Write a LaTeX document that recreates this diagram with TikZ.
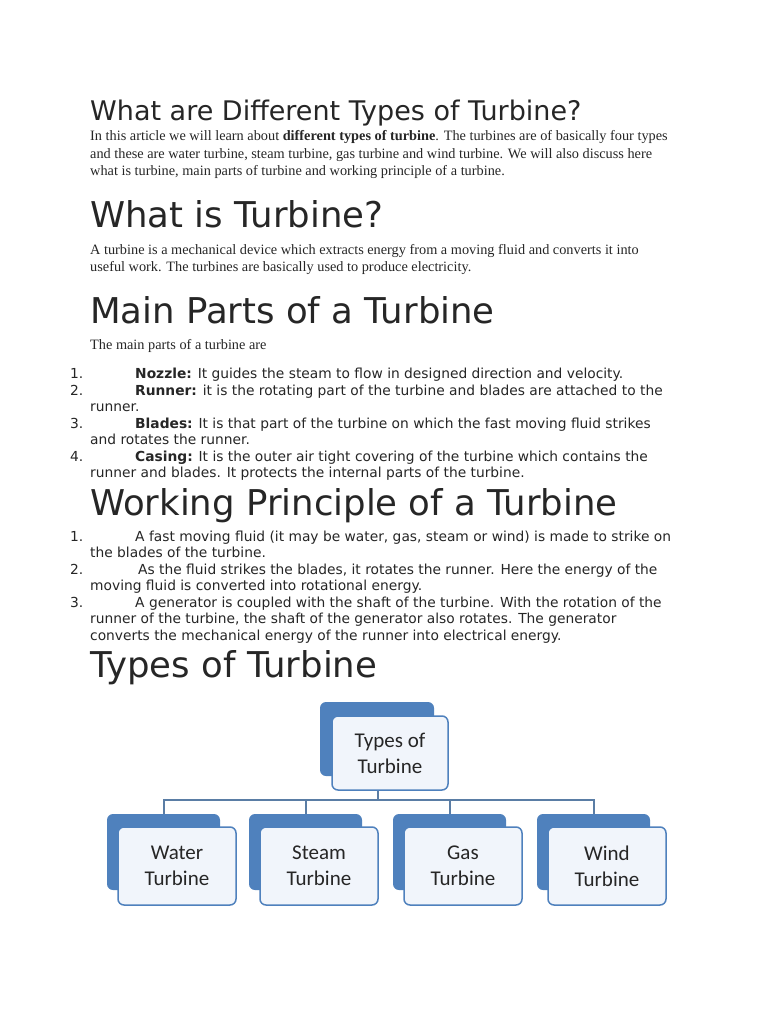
\documentclass[tikz,border=0pt]{standalone}
\usepackage{fontspec}
\setmainfont{Liberation Serif}
\newfontfamily\dvfont{DejaVu Sans}
\newfontfamily\calfont{Carlito}
\begin{document}
\begin{tikzpicture}[x=1pt,y=-1pt,
 htwo/.style={anchor=base west,inner sep=0,font=\dvfont\fontsize{27}{30}\selectfont,text=black!85},
 hone/.style={anchor=base west,inner sep=0,font=\dvfont\fontsize{35.5}{40}\selectfont,text=black!85},
 body/.style={anchor=base west,inner sep=0,font=\fontsize{14.3}{16}\selectfont,text=black!85},
 li/.style={anchor=base west,inner sep=0,font=\dvfont\fontsize{13.8}{16}\selectfont,text=black!85},
 backbox/.style={draw=none,rounded corners=6pt,fill={rgb,255:red,79;green,129;blue,189}},
 frontbox/.style={fill={rgb,255:red,241;green,245;blue,251},draw={rgb,255:red,79;green,129;blue,189},line width=1.5pt,rounded corners=6pt,font=\calfont\fontsize{21}{26}\selectfont,align=center,inner sep=0,text=black!85},
 conn/.style={draw={rgb,255:red,90;green,125;blue,165},line width=1.5pt}]
\useasboundingbox (0,0) rectangle (768,1024);
\fill[white] (0,0) rectangle (768,1024);
\node[htwo] (h0) at (90,121) {What are Different Types of Turbine?};
\node[body] (p1) at (90,141) {In this article we will learn about \textbf{different types of turbine}. The turbines are of basically four types};
\node[body] (p2) at (90,159) {and these are water turbine, steam turbine, gas turbine and wind turbine. We will also discuss here};
\node[body] (p3) at (90,176) {what is turbine, main parts of turbine and working principle of a turbine.};
\node[hone] (h1) at (90,227) {What is Turbine?};
\node[body] (p4) at (90,254) {A turbine is a mechanical device which extracts energy from a moving fluid and converts it into};
\node[body] (p5) at (90,271) {useful work. The turbines are basically used to produce electricity.};
\node[hone] (h2) at (90,323) {Main Parts of a Turbine};
\node[body] (p6) at (90,349) {The main parts of a turbine are};
\node[li] at (70,378) {1.}; \node[li] at (135,378) {\textbf{Nozzle:} It guides the steam to flow in designed direction and velocity.};
\node[li] at (70,395) {2.}; \node[li] at (135,395) {\textbf{Runner:} it is the rotating part of the turbine and blades are attached to the};
\node[li] at (90,411) {runner.};
\node[li] at (70,428) {3.}; \node[li] at (135,428) {\textbf{Blades:} It is that part of the turbine on which the fast moving fluid strikes};
\node[li] at (90,444) {and rotates the runner.};
\node[li] at (70,461) {4.}; \node[li] at (135,461) {\textbf{Casing:} It is the outer air tight covering of the turbine which contains the};
\node[li] at (90,477) {runner and blades. It protects the internal parts of the turbine.};
\node[hone] (h3) at (90,515) {Working Principle of a Turbine};
\node[li] at (70,541) {1.}; \node[li] at (135,541) {A fast moving fluid (it may be water, gas, steam or wind) is made to strike on};
\node[li] at (90,557) {the blades of the turbine.};
\node[li] at (70,574) {2.}; \node[li] at (138,574) {As the fluid strikes the blades, it rotates the runner. Here the energy of the};
\node[li] at (90,590) {moving fluid is converted into rotational energy.};
\node[li] at (70,607) {3.}; \node[li] at (135,607) {A generator is coupled with the shaft of the turbine. With the rotation of the};
\node[li] at (90,623) {runner of the turbine, the shaft of the generator also rotates. The generator};
\node[li] at (90,640) {converts the mechanical energy of the runner into electrical energy.};
\node[hone] (h4) at (90,677) {Types of Turbine};
% diagram
\fill[backbox] (320,702) rectangle (434,776);
\node[frontbox,minimum width=116pt,minimum height=74pt] (top) at (390,753) {Types of\\Turbine};
\coordinate (bus) at (378,800);
\draw[conn] (top.south -| bus) -- (bus);
\foreach \n/\x/\t in {w/164/Water,s/306/Steam,g/450/Gas,d/594/Wind}{
  \fill[backbox] (\x-57,814) rectangle (\x+56,890);
  \node[frontbox,minimum width=118pt,minimum height=78pt] (\n) at (\x+13,866) {\t\\Turbine};
}
\draw[conn] (164,814) |- (bus) -| (594,814);
\draw[conn] (306,800) -- (306,814);
\draw[conn] (450,800) -- (450,814);
\end{tikzpicture}
\end{document}
